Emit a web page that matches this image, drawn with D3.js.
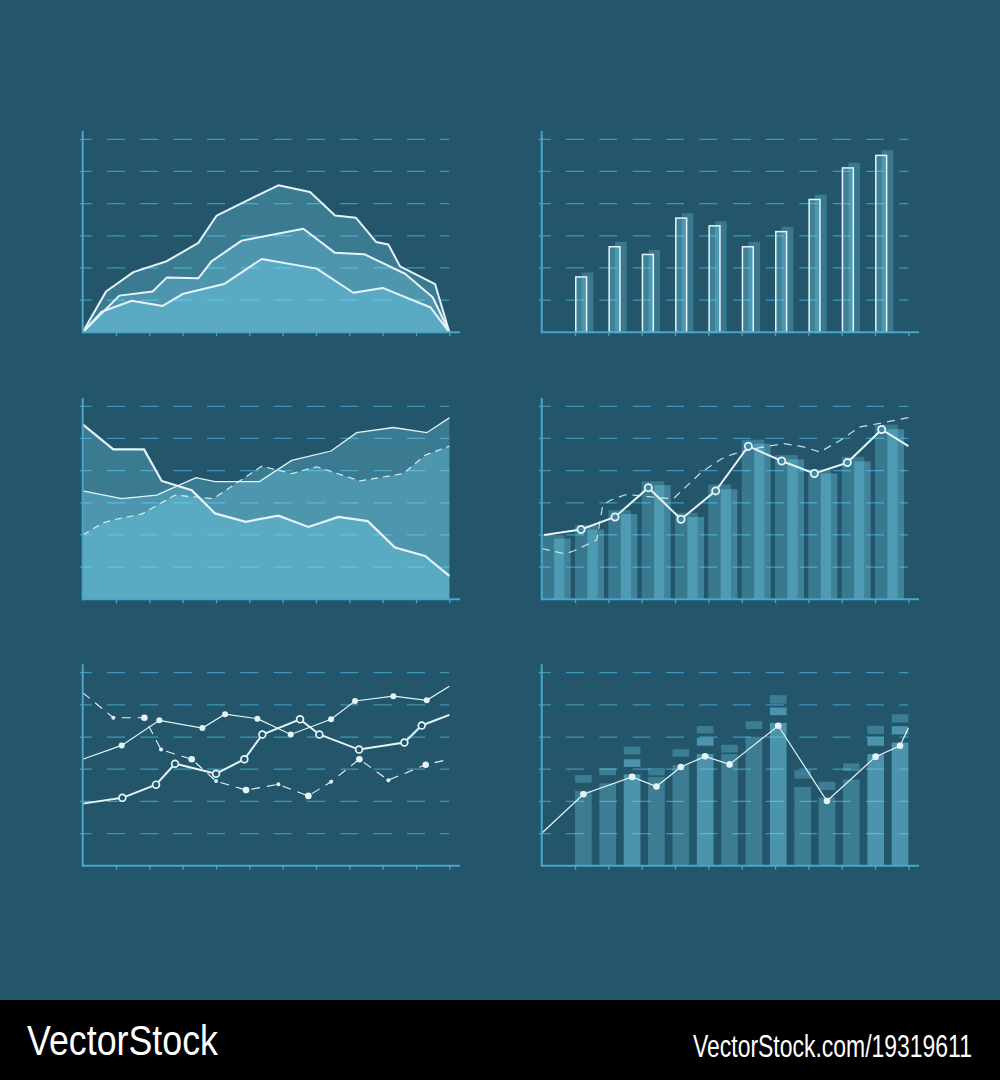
<!DOCTYPE html>
<html><head><meta charset="utf-8">
<script src="https://cdn.jsdelivr.net/npm/d3@7"></script>
<style>html,body{margin:0;padding:0;background:#23566b;} svg{display:block;}</style>
</head><body>
<svg id="c" width="1000" height="1080"></svg>
<script>
// ---------- DATA ----------
const gridVals = [1, 2, 3, 4, 5, 6];
const xTicks = [1, 2, 3, 4, 5, 6, 7, 8, 9, 10, 11];

// Panel 1 : layered areas  [x, value]
const p1Top = [[0,0],[0.70,1.27],[1.52,1.87],[2.52,2.21],[3.47,2.78],[4.02,3.63],[5.17,4.22],[5.87,4.57],[6.82,4.36],[7.57,3.63],[8.20,3.56],[8.80,2.81],[9.17,2.73],[9.52,2.05],[10.57,1.50],[11,0]];
const p1Mid = [[0,0],[1.10,1.14],[2.10,1.27],[2.52,1.70],[3.47,1.68],[3.87,2.21],[4.77,2.85],[6.62,3.22],[7.57,2.47],[8.44,2.43],[9.67,1.82],[10.50,1.09],[11,0]];
const p1Low = [[0,0],[0.57,0.64],[1.47,0.98],[2.40,0.82],[3.02,1.20],[4.24,1.50],[5.37,2.28],[7.02,1.98],[8.12,1.23],[9.00,1.38],[10.44,0.77],[11,0]];

// Panel 2 : bars (front outlined, back shadow)
const p2Cats = [1, 2, 3, 4, 5, 6, 7, 8, 9, 10];
const p2Front = [1.72, 2.66, 2.42, 3.55, 3.31, 2.66, 3.13, 4.13, 5.11, 5.50];
const p2Back  = [1.86, 2.81, 2.56, 3.70, 3.45, 2.81, 3.28, 4.28, 5.27, 5.66];

// Panel 3 : overlapping areas
const p3A = [[0,5.44],[0.92,4.66],[1.84,4.66],[2.37,3.68],[3.27,3.39],[3.97,2.67],[4.89,2.41],[5.87,2.60],[6.77,2.25],[7.67,2.56],[8.55,2.43],[9.37,1.61],[10.27,1.35],[11,0.73]];
const p3B = [[0,3.37],[1.17,3.13],[2.22,3.24],[3.40,3.78],[3.97,3.66],[5.30,3.66],[6.27,4.32],[7.45,4.61],[8.22,5.18],[9.32,5.34],[10.32,5.18],[11,5.64]];
const p3C = [[0,2.00],[0.62,2.38],[0.97,2.48],[1.77,2.65],[2.77,3.24],[3.92,3.13],[5.37,4.14],[6.27,3.91],[7.02,4.12],[8.32,3.68],[9.62,3.91],[10.27,4.48],[11,4.76]];

// Panel 4 : grouped bars + lines
const p4Cats = [0, 1, 2, 3, 4, 5, 6, 7, 8, 9, 10];
const p4Back  = [2.00, 2.31, 2.77, 3.67, 2.69, 3.57, 4.96, 4.48, 4.04, 4.43, 5.43];
const p4Front = [1.89, 2.17, 2.65, 3.55, 2.56, 3.42, 4.84, 4.35, 3.91, 4.29, 5.29];
const p4Line = [[0.07,2.00],[1.18,2.17],[2.20,2.56],[3.20,3.47],[4.18,2.49],[5.22,3.37],[6.20,4.76],[7.20,4.30],[8.18,3.91],[9.17,4.25],[10.20,5.28],[11,4.76]];
const p4Dash = [[0,1.58],[0.70,1.41],[0.95,1.50],[1.65,1.84],[1.83,2.91],[2.05,3.07],[2.50,3.25],[2.85,3.23],[3.50,3.16],[3.95,3.13],[4.80,3.96],[5.40,4.37],[5.70,4.50],[6.35,4.68],[7.25,4.84],[7.85,4.74],[8.35,4.58],[8.95,4.94],[9.55,5.36],[10.25,5.49],[11,5.65]];

// Panel 5 : three lines with markers
const p5A = [[0,3.31],[1.17,3.74],[2.30,4.52],[3.59,4.28],[4.27,4.71],[5.24,4.57],[6.24,4.08],[7.45,4.55],[8.17,5.12],[9.32,5.27],[10.32,5.14],[11,5.58]];
const p5B = [[0,1.93],[1.19,2.11],[2.20,2.52],[2.77,3.17],[4.00,2.86],[4.85,3.31],[5.39,4.08],[6.52,4.55],[7.10,4.08],[8.29,3.61],[9.65,3.83],[10.17,4.36],[11,4.69]];
const p5C = [[0,5.38],[0.92,4.60],[1.85,4.60],[2.35,3.61],[3.27,3.31],[4.00,2.63],[4.90,2.35],[5.87,2.53],[6.77,2.17],[7.45,2.61],[8.30,3.31],[9.17,2.66],[10.29,3.14],[11,3.31]];
const p5CBig = [false,false,true,false,true,false,true,false,true,false,true,false,true,false];

// Panel 6 : bars with caps + line
const p6Bars  = [2.33, 2.56, 2.84, 2.76, 3.13, 3.47, 3.47, 4.01, 4.44, 2.45, 2.12, 2.68, 3.47, 3.83];
const p6Light = [false,false,true,false,false,true,false,false,true,false,false,false,true,true];
const p6Cap1Lo = [2.58, 2.81, 3.07, 2.81, 3.39, 3.73, 3.52, 4.25, 4.68, 2.71, 2.35, 2.94, 3.73, 4.08];
const p6Cap1Hi = [2.82, 3.04, 3.31, 3.04, 3.62, 3.98, 3.76, 4.49, 4.92, 2.97, 2.61, 3.18, 3.99, 4.34];
const p6Cap2Lo = [null, null, 3.46, null, null, 4.11, null, null, 5.04, null, null, null, 4.09, 4.45];
const p6Cap2Hi = [null, null, 3.70, null, null, 4.34, null, null, 5.30, null, null, null, 4.35, 4.71];
const p6LineIdx  = [0, 2, 3, 4, 5, 6, 8, 10, 12, 13];
const p6LineVals = [2.22, 2.76, 2.46, 3.07, 3.40, 3.15, 4.35, 2.01, 3.39, 3.73];
const p6LineStart = 1.01, p6LineEnd = 4.28;

const wmLeft = "VectorStock";
const wmRight = "VectorStock.com/19319611";

// ---------- STYLE ----------
const BG = "#23566b", GRID = "#3c96bc", AXIS = "#4aa6cb", FILL = "#7de1fd", WHITE = "#e4f4f9";

const svg = d3.select("#c");
svg.append("rect").attr("width", 1000).attr("height", 1080).attr("fill", BG);

function panel(x0, base) {
  const x = d3.scaleLinear().domain([0, 11]).range([x0, x0 + 366.67]);
  const y = d3.scaleLinear().domain([0, 6]).range([base, base - 193]);
  const g = svg.append("g");
  g.append("g").selectAll("line").data(gridVals).join("line")
    .attr("x1", x(0) - 3).attr("x2", x(11))
    .attr("y1", d => y(d)).attr("y2", d => y(d))
    .attr("stroke", GRID).attr("stroke-width", 1.3)
    .attr("stroke-dasharray", "18 15.33").attr("stroke-dashoffset", 6);
  return { x, y, g };
}
function axes(p) {
  const ax = d3.axisBottom(p.x).tickValues(xTicks).tickSize(4).tickSizeOuter(0).tickFormat("");
  const ga = p.g.append("g").attr("transform", `translate(0,${p.y(0)})`).call(ax);
  ga.select(".domain").remove();
  ga.selectAll("line").attr("stroke", AXIS).attr("stroke-width", 1.3);
  p.g.append("line").attr("x1", p.x(0)).attr("x2", p.x(11.32))
    .attr("y1", p.y(0)).attr("y2", p.y(0)).attr("stroke", AXIS).attr("stroke-width", 2);
  p.g.append("line").attr("x1", p.x(0)).attr("x2", p.x(0))
    .attr("y1", p.y(0) + 1).attr("y2", p.y(6.26)).attr("stroke", AXIS).attr("stroke-width", 2);
}
const LX = 82.7, RX = 541.7, B1 = 332.3, B2 = 599.3, B3 = 865.7;

// ---------- PANEL 1 ----------
{
  const p = panel(LX, B1);
  const area = d3.area().x(d => p.x(d[0])).y0(p.y(0)).y1(d => p.y(d[1]));
  const line = d3.line().x(d => p.x(d[0])).y(d => p.y(d[1]));
  [p1Top, p1Mid, p1Low].forEach(s => p.g.append("path").attr("d", area(s)).attr("fill", FILL).attr("fill-opacity", 0.27));
  [p1Top, p1Mid, p1Low].forEach(s => p.g.append("path").attr("d", line(s)).attr("fill", "none")
    .attr("stroke", WHITE).attr("stroke-width", 2).attr("stroke-linejoin", "round"));
  axes(p);
}

// ---------- PANEL 2 ----------
{
  const p = panel(RX, B1);
  p.g.append("g").selectAll("rect").data(p2Cats).join("rect")
    .attr("x", (d) => p.x(d + 0.2)).attr("width", p.x(0.35) - p.x(0))
    .attr("y", (d, i) => p.y(p2Back[i])).attr("height", (d, i) => p.y(0) - p.y(p2Back[i]))
    .attr("fill", FILL).attr("fill-opacity", 0.25);
  p.g.append("g").selectAll("rect").data(p2Cats).join("rect")
    .attr("x", (d) => p.x(d) + 0.75).attr("width", p.x(0.37) - p.x(0) - 1.5)
    .attr("y", (d, i) => p.y(p2Front[i])).attr("height", (d, i) => p.y(0) - p.y(p2Front[i]))
    .attr("fill", FILL).attr("fill-opacity", 0.3)
    .attr("stroke", WHITE).attr("stroke-width", 1.5);
  axes(p);
}

// ---------- PANEL 3 ----------
{
  const p = panel(LX, B2);
  const area = d3.area().x(d => p.x(d[0])).y0(p.y(0)).y1(d => p.y(d[1]));
  const line = d3.line().x(d => p.x(d[0])).y(d => p.y(d[1]));
  [p3A, p3B, p3C].forEach(s => p.g.append("path").attr("d", area(s)).attr("fill", FILL).attr("fill-opacity", 0.27));
  p.g.append("path").attr("d", line(p3C)).attr("fill", "none").attr("stroke", WHITE)
    .attr("stroke-width", 1.2).attr("stroke-dasharray", "7 5").attr("opacity", 0.9);
  p.g.append("path").attr("d", line(p3B)).attr("fill", "none").attr("stroke", WHITE).attr("stroke-width", 1.3);
  p.g.append("path").attr("d", line(p3A)).attr("fill", "none").attr("stroke", WHITE).attr("stroke-width", 2.2);
  axes(p);
}

// ---------- PANEL 4 ----------
{
  const p = panel(RX, B2);
  const line = d3.line().x(d => p.x(d[0])).y(d => p.y(d[1]));
  p.g.append("g").selectAll("rect").data(p4Cats).join("rect")
    .attr("x", d => p.x(d)).attr("width", p.x(0.68) - p.x(0))
    .attr("y", (d, i) => p.y(p4Back[i])).attr("height", (d, i) => p.y(0) - p.y(p4Back[i]))
    .attr("fill", FILL).attr("fill-opacity", 0.26);
  p.g.append("g").selectAll("rect").data(p4Cats).join("rect")
    .attr("x", d => p.x(d + 0.37)).attr("width", p.x(0.5) - p.x(0))
    .attr("y", (d, i) => p.y(p4Front[i])).attr("height", (d, i) => p.y(0) - p.y(p4Front[i]))
    .attr("fill", FILL).attr("fill-opacity", 0.32);
  p.g.append("path").attr("d", line(p4Dash)).attr("fill", "none").attr("stroke", WHITE)
    .attr("stroke-width", 1.2).attr("stroke-dasharray", "8 6").attr("opacity", 0.85);
  p.g.append("path").attr("d", line(p4Line)).attr("fill", "none").attr("stroke", WHITE).attr("stroke-width", 2);
  p.g.append("g").selectAll("circle").data(p4Line.slice(1, -1)).join("circle")
    .attr("cx", d => p.x(d[0])).attr("cy", d => p.y(d[1])).attr("r", 3.6)
    .attr("fill", "#3f85a0").attr("stroke", WHITE).attr("stroke-width", 1.8);
  axes(p);
}

// ---------- PANEL 5 ----------
{
  const p = panel(LX, B3);
  const line = d3.line().x(d => p.x(d[0])).y(d => p.y(d[1]));
  p.g.append("path").attr("d", line(p5C)).attr("fill", "none").attr("stroke", WHITE)
    .attr("stroke-width", 1.1).attr("stroke-dasharray", "9 7");
  p.g.append("g").selectAll("circle").data(p5C.slice(1, -1)).join("circle")
    .attr("cx", d => p.x(d[0])).attr("cy", d => p.y(d[1]))
    .attr("r", (d, i) => p5CBig[i + 1] ? 3.3 : 2).attr("fill", WHITE);
  p.g.append("path").attr("d", line(p5A)).attr("fill", "none").attr("stroke", WHITE).attr("stroke-width", 1.2);
  p.g.append("g").selectAll("circle").data(p5A.slice(1, -1)).join("circle")
    .attr("cx", d => p.x(d[0])).attr("cy", d => p.y(d[1])).attr("r", 3).attr("fill", WHITE);
  p.g.append("path").attr("d", line(p5B)).attr("fill", "none").attr("stroke", WHITE).attr("stroke-width", 2);
  p.g.append("g").selectAll("circle").data(p5B.slice(1, -1)).join("circle")
    .attr("cx", d => p.x(d[0])).attr("cy", d => p.y(d[1])).attr("r", 3.4)
    .attr("fill", BG).attr("stroke", WHITE).attr("stroke-width", 1.7);
  axes(p);
}

// ---------- PANEL 6 ----------
{
  const p = panel(RX, B3);
  const idx = d3.range(p6Bars.length);
  const bx = d3.scaleLinear().domain([0, p6Bars.length - 1]).range([1, 10.5]);
  const bw = p.x(0.5) - p.x(0);
  p.g.append("g").selectAll("rect").data(idx).join("rect")
    .attr("x", i => p.x(bx(i))).attr("width", bw)
    .attr("y", i => p.y(p6Bars[i])).attr("height", i => p.y(0) - p.y(p6Bars[i]))
    .attr("fill", FILL).attr("fill-opacity", i => p6Light[i] ? 0.45 : 0.28);
  p.g.append("g").selectAll("rect").data(idx).join("rect")
    .attr("x", i => p.x(bx(i))).attr("width", bw)
    .attr("y", i => p.y(p6Cap1Hi[i])).attr("height", i => p.y(p6Cap1Lo[i]) - p.y(p6Cap1Hi[i]))
    .attr("fill", FILL).attr("fill-opacity", i => p6Light[i] ? 0.45 : 0.28);
  p.g.append("g").selectAll("rect").data(idx.filter(i => p6Cap2Lo[i] !== null)).join("rect")
    .attr("x", i => p.x(bx(i))).attr("width", bw)
    .attr("y", i => p.y(p6Cap2Hi[i])).attr("height", i => p.y(p6Cap2Lo[i]) - p.y(p6Cap2Hi[i]))
    .attr("fill", FILL).attr("fill-opacity", 0.28);
  const pts = [[0, p6LineStart]].concat(p6LineIdx.map((k, j) => [bx(k) + 0.25, p6LineVals[j]])).concat([[11, p6LineEnd]]);
  const line = d3.line().x(d => p.x(d[0])).y(d => p.y(d[1]));
  p.g.append("path").attr("d", line(pts)).attr("fill", "none").attr("stroke", WHITE).attr("stroke-width", 1.2);
  p.g.append("g").selectAll("circle").data(pts.slice(1, -1)).join("circle")
    .attr("cx", d => p.x(d[0])).attr("cy", d => p.y(d[1])).attr("r", 3.3).attr("fill", WHITE);
  axes(p);
}

// ---------- WATERMARK BAR ----------
svg.append("rect").attr("x", 0).attr("y", 1000).attr("width", 1000).attr("height", 80).attr("fill", "#000");
function fitText(str, x, y, size, width) {
  const t = svg.append("text").attr("x", 0).attr("y", 0).text(str)
    .attr("fill", "#fff").attr("font-family", "'Liberation Sans','Arial',sans-serif")
    .attr("font-size", size);
  const w = t.node().getComputedTextLength();
  t.attr("transform", `translate(${x},${y}) scale(${width / w},1)`);
}
fitText(wmLeft, 27, 1055, 42, 191);
fitText(wmRight, 693, 1057, 31, 279);
</script>
</body></html>
